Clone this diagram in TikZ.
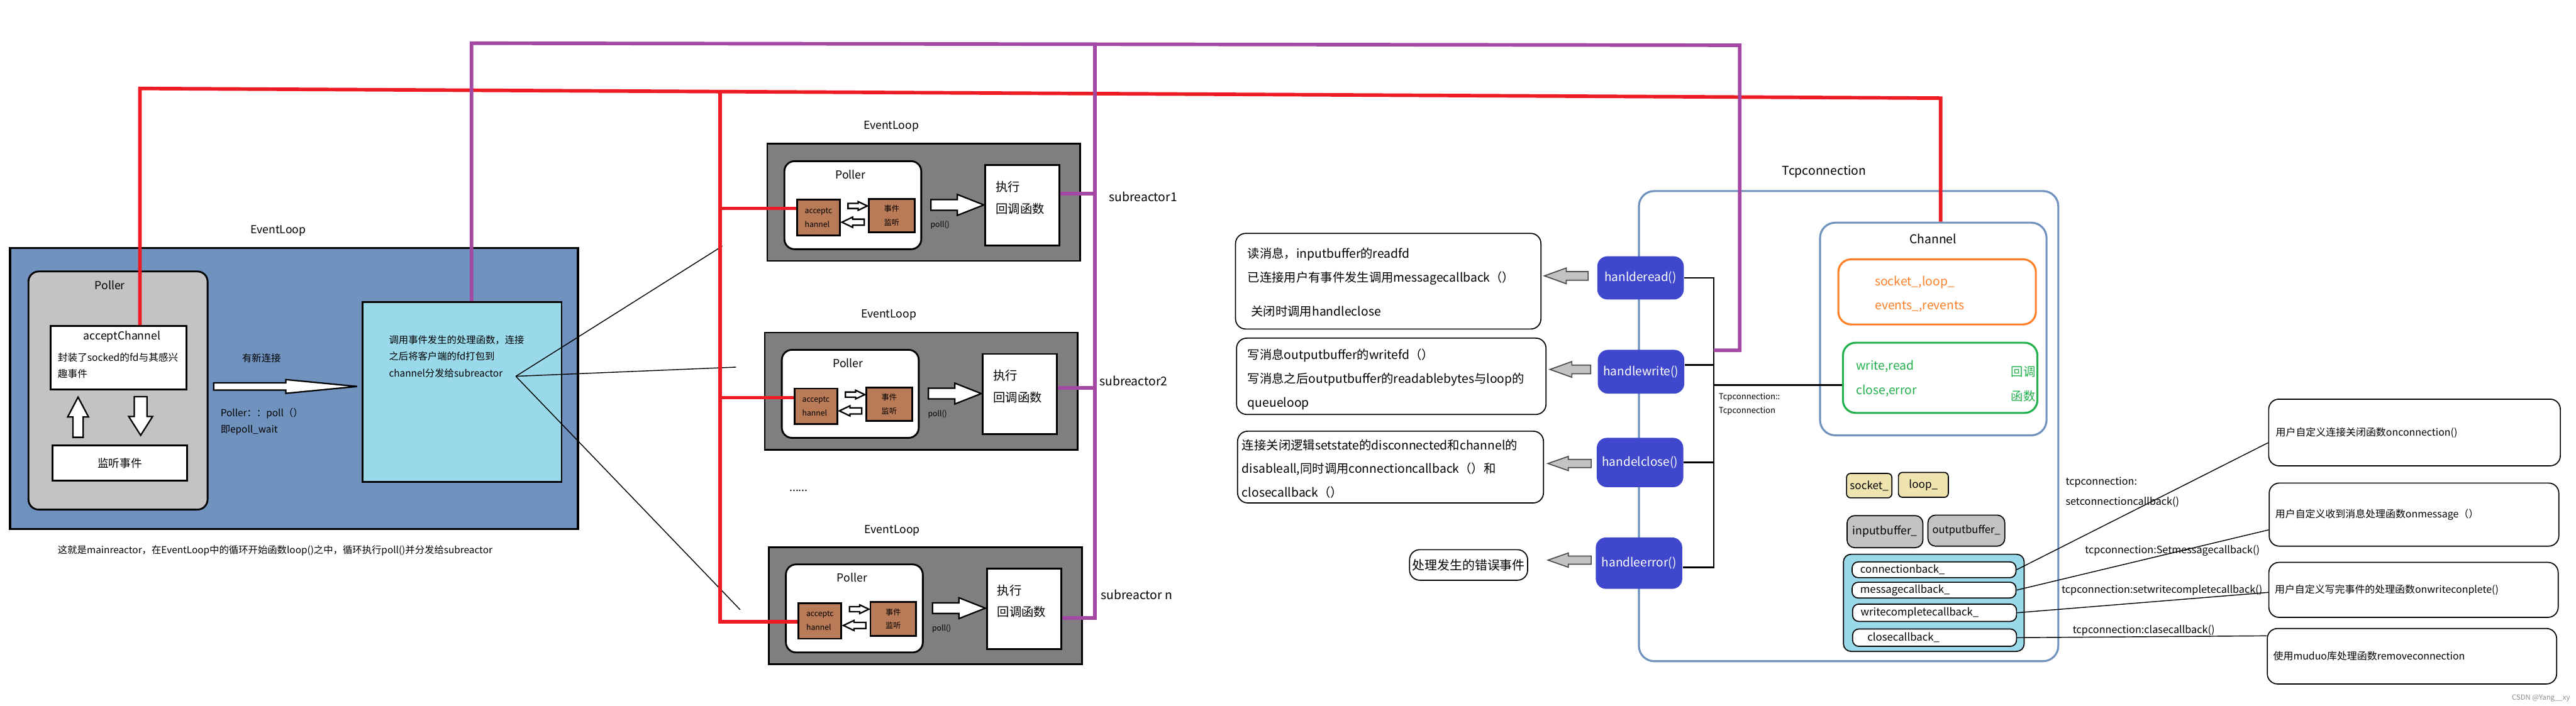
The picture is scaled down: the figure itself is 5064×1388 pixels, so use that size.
\documentclass[tikz,border=0pt]{standalone}
\usepackage{fontspec}
\setmainfont{Noto Sans CJK SC}
\usepackage{xcolor}
\usetikzlibrary{positioning}
\newcommand{\fsz}[2]{\fontsize{#1}{#2}\selectfont}
% block arrow: [style] {cx}{cy}{rotation}{length}{head width}{shaft width}{head length}
\newcommand{\blockarr}[8][]{%
  \begin{scope}[shift={(#2,#3)}, rotate=#4]
    \draw[barrow,#1] (-#5/2,-#7/2) -- (#5/2-#8,-#7/2) -- (#5/2-#8,-#6/2) -- (#5/2,0)
         -- (#5/2-#8,#6/2) -- (#5/2-#8,#7/2) -- (-#5/2,#7/2) -- cycle;
  \end{scope}}
\definecolor{cMain}{HTML}{7092BE}
\definecolor{cLight}{HTML}{99D9EA}
\definecolor{cPoll}{HTML}{C3C3C3}
\definecolor{cLoop}{HTML}{7F7F7F}
\definecolor{cBrown}{HTML}{B97A57}
\definecolor{cRed}{HTML}{ED1C24}
\definecolor{cPurple}{HTML}{A349A4}
\definecolor{cHandle}{HTML}{3F48CC}
\definecolor{cOrange}{HTML}{FF7F27}
\definecolor{cGreen}{HTML}{22B14C}
\definecolor{cTan}{HTML}{EFE4B0}
\tikzset{
  txt/.style={inner sep=0pt, align=left},
  box/.style 2 args={draw=black, line width=1pt, minimum width=#1cm, minimum height=#2cm, inner sep=0pt},
  barrow/.style={draw=black, fill=white, line width=0.8pt, line join=miter},
  garrow/.style={draw=black!70, fill=cPoll, line width=0.6pt},
  loopbox/.style={draw=black, fill=cLoop, line width=1pt, minimum width=6.15cm, minimum height=2.30cm},
  pollbox/.style={draw=black, fill=white, line width=1pt, rounded corners=0.2cm,
                  minimum width=2.69cm, minimum height=1.73cm},
  brownbox/.style={draw=black, fill=cBrown, line width=1pt, align=left, inner sep=0pt, font=\fsz{4.3}{7.7}},
  wbox/.style={draw=black, fill=white, line width=1pt, minimum width=1.46cm, minimum height=1.58cm},
  redline/.style={cRed, line width=2pt},
  purline/.style={cPurple, line width=2pt},
  busline/.style={black, line width=1pt},
  thinl/.style={black, line width=0.5pt},
  hbox/.style={fill=cHandle, rounded corners=0.2cm, minimum width=1.70cm, text=white,
               font=\fsz{6.7}{8}, inner sep=0pt},
  descbox/.style={draw=black, fill=white, line width=0.6pt, rounded corners=0.2cm, inner sep=0pt},
  chanbox/.style={draw=#1, line width=1.1pt, rounded corners=0.3cm, inner sep=0pt},
  tanbox/.style={draw=black, fill=cTan, line width=0.6pt, rounded corners=0.08cm, inner sep=0pt,
                 font=\fsz{6}{7}},
  bufbox/.style={draw=black, fill=cPoll, line width=0.6pt, rounded corners=0.15cm, inner sep=0pt},
  cbbox/.style={draw=black, fill=white, line width=0.6pt, rounded corners=0.12cm, minimum width=3.22cm,
                inner xsep=0.16cm, inner ysep=0pt, text width=2.9cm, align=left, font=\fsz{5.9}{7}},
  userbox/.style={draw=black, fill=white, line width=0.6pt, rounded corners=0.2cm, text width=5.45cm,
                  align=left, font=\fsz{5.6}{7}},
  fa/.style={font=\fsz{4.3}{5.2}},
  fb/.style={font=\fsz{5.4}{6.5}},
  fc/.style={font=\fsz{6.2}{7.4}},
  fd/.style={font=\fsz{6.8}{8.2}},
}

\begin{document}
\begin{tikzpicture}[x=0.01cm, y=-0.01cm]
  \useasboundingbox[fill=white] (0,0) rectangle (5064,1388);

  % main reactor
  \node[fc] (mainTitle) at (547,454) {EventLoop};
  \node[box={11.16}{5.52}, fill=cMain, line width=1.2pt] (mainLoop) at (578,764) {};
  \node[box={3.52}{4.68}, fill=cPoll, rounded corners=0.2cm] (mainPoller) at (232,768) {};
  \node[fc] (mainPollerLbl) at (216,561) {Poller};
  \node[box={2.67}{1.25}, fill=white] (acceptCh) at (233.5,703.5) {};
  \node[fc] (acceptChLbl) at (240,662) {acceptChannel};
  \node[txt, anchor=west, font=\fsz{5.5}{9.1}] (acceptChTxt) at (113,719) {封装了socked的fd与其感兴\\趣事件};
  \blockarr{153.5}{820.5}{90}{79}{41}{20}{39}
  \blockarr{276.5}{818}{-90}{76}{47}{25}{37}
  \node[box={2.65}{0.69}, fill=white, fc] (listenEv) at (235.5,910.5) {监听事件};
  \blockarr{561}{760}{0}{282}{27}{14}{140}
  \node[fb] (newConnLbl) at (514,704) {有新连接};
  \node[txt, anchor=west, font=\fsz{5.4}{9.1}] (pollLbl) at (433,829) {Poller：：poll（）\\即epoll\_wait};
  \node[box={3.91}{3.54}, fill=cLight] (dispatch) at (908.5,771) {};
  \node[txt, anchor=west, font=\fsz{5.4}{9.4}] (dispatchTxt) at (764,701)
       {调用事件发生的处理函数，连接\\之后将客户端的fd打包到\\channel分发给subreactor};
  \node[txt, anchor=west, fb] (mainNote) at (113,1083)
       {这就是mainreactor，在EventLoop中的循环开始函数loop()之中，循环执行poll()并分发给subreactor};
  \coordinate (fanOut) at (1014,740);
  \coordinate (toLoopA) at (1420,484);
  \coordinate (toLoopB) at (1447,722);
  \coordinate (toLoopC) at (1455,1199);
  \draw[thinl] (fanOut) -- (toLoopA);
  \draw[thinl] (fanOut) -- (toLoopB);
  \draw[thinl] (fanOut) -- (toLoopC);

  % sub reactor 1
  \node[fc] (loopALbl) at (1752,249) {EventLoop};
  \node[loopbox] (loopA) at (1816,398) {};
  \node[pollbox] (pollA) at (1676.5,403.5) {};
  \node[fc] (pollALbl) at (1672,343) {Poller};
  \node[brownbox, minimum width=0.84cm, minimum height=0.70cm] (accA) at (1609,428) {acceptc\\hannel};
  \node[brownbox, minimum width=0.90cm, minimum height=0.66cm] (evA) at (1753,424) {事件\\监听};
  \blockarr{1686}{405}{0}{38}{17}{10}{18}
  \blockarr{1677}{437}{180}{44}{20}{12}{21}
  \blockarr{1882}{403}{0}{104}{41}{21}{52}
  \node[fa] (pollCallA) at (1848,443) {poll()};
  \node[wbox] (cbA) at (2010,404) {};
  \node[txt, anchor=west, font=\fsz{6.8}{12}] (cbATxt) at (1957,389) {执行\\回调函数};
  \node[txt, anchor=west, fd] (subALbl) at (2180,387) {subreactor1};

  % sub reactor 2
  \node[fc] (loopBLbl) at (1747,620) {EventLoop};
  \node[loopbox] (loopB) at (1811,769) {};
  \node[pollbox] (pollB) at (1671.5,774.5) {};
  \node[fc] (pollBLbl) at (1667,714) {Poller};
  \node[brownbox, minimum width=0.84cm, minimum height=0.70cm] (accB) at (1604,799) {acceptc\\hannel};
  \node[brownbox, minimum width=0.90cm, minimum height=0.66cm] (evB) at (1748,795) {事件\\监听};
  \blockarr{1681}{776}{0}{38}{17}{10}{18}
  \blockarr{1672}{808}{180}{44}{20}{12}{21}
  \blockarr{1877}{774}{0}{104}{41}{21}{52}
  \node[fa] (pollCallB) at (1843,814) {poll()};
  \node[wbox] (cbB) at (2005,775) {};
  \node[txt, anchor=west, font=\fsz{6.8}{12}] (cbBTxt) at (1952,760) {执行\\回调函数};
  \node[txt, anchor=west, fd] (subBLbl) at (2161,749) {subreactor2};

  \node[fc] (moreLoops) at (1570,965) {......};

  % sub reactor n
  \node[fc] (loopCLbl) at (1754,1043) {EventLoop};
  \node[loopbox] (loopC) at (1819,1191) {};
  \node[pollbox] (pollC) at (1679.5,1196.5) {};
  \node[fc] (pollCLbl) at (1675,1136) {Poller};
  \node[brownbox, minimum width=0.84cm, minimum height=0.70cm] (accC) at (1612,1221) {acceptc\\hannel};
  \node[brownbox, minimum width=0.90cm, minimum height=0.66cm] (evC) at (1756,1217) {事件\\监听};
  \blockarr{1689}{1198}{0}{38}{17}{10}{18}
  \blockarr{1680}{1230}{180}{44}{20}{12}{21}
  \blockarr{1885}{1196}{0}{104}{41}{21}{52}
  \node[fa] (pollCallC) at (1851,1236) {poll()};
  \node[wbox] (cbC) at (2013,1197) {};
  \node[txt, anchor=west, font=\fsz{6.8}{12}] (cbCTxt) at (1960,1182) {执行\\回调函数};
  \node[txt, anchor=west, fd] (subCLbl) at (2164,1170) {subreactor n};

  % Tcpconnection
  \node[fd] (tcpLbl) at (3586,338) {Tcpconnection};
  \node[chanbox=cMain, minimum width=8.24cm, minimum height=9.24cm] (tcp) at (3634,838) {};
  \node[chanbox=cMain, minimum width=4.45cm, minimum height=4.18cm] (channel) at (3800.5,647) {};
  \node[fd] (channelLbl) at (3800,470) {Channel};
  \node[chanbox=cOrange, rounded corners=0.25cm, minimum width=3.88cm, minimum height=1.28cm] (chState) at (3808,574) {};
  \node[txt, anchor=west, text=cOrange, font=\fsz{6.8}{13.1}] (chStateTxt) at (3685,578) {socket\_,loop\_\\events\_,revents};
  \node[chanbox=cGreen, rounded corners=0.25cm, minimum width=3.82cm, minimum height=1.38cm] (chCb) at (3814,743) {};
  \node[txt, anchor=west, text=cGreen, font=\fsz{6.8}{13.7}] (chCbTxt) at (3648,744) {write,read\\close,error};
  \node[txt, anchor=west, text=cGreen, font=\fsz{6.8}{13.7}] (chCbTag) at (3953,755) {回调\\函数};

  \node[tanbox, minimum width=0.89cm, minimum height=0.48cm] (sockBuf) at (3674.5,955) {socket\_};
  \node[tanbox, minimum width=0.98cm, minimum height=0.49cm] (loopBuf) at (3781,953.5) {loop\_};
  \node[bufbox, minimum width=1.49cm, minimum height=0.63cm, font=\fsz{6.2}{7}] (inBuf) at (3705.5,1045.5) {inputbuffer\_};
  \node[bufbox, minimum width=1.51cm, minimum height=0.61cm, font=\fsz{5.8}{7}] (outBuf) at (3865.5,1043.5) {outputbuffer\_};
  \node[bufbox, fill=cLight, minimum width=3.55cm, minimum height=1.91cm] (cbSet) at (3801.5,1185.5) {};
  \node[cbbox, minimum height=0.31cm] (cbConn) at (3802,1120.5) {connectionback\_};
  \node[cbbox, minimum height=0.31cm] (cbMsg) at (3802,1160.5) {messagecallback\_};
  \node[cbbox, minimum height=0.34cm] (cbWrite) at (3803,1205) {writecompletecallback\_};
  \node[cbbox, minimum height=0.34cm] (cbClose) at (3803,1254) {\hspace{1.3mm}closecallback\_};

  \node[hbox, minimum height=0.85cm] (hRead) at (3225,546.5) {hanlderead()};
  \node[hbox, minimum height=0.86cm] (hWrite) at (3226,731) {handlewrite()};
  \node[hbox, minimum height=0.97cm] (hClose) at (3224,909.5) {handelclose()};
  \node[hbox, minimum height=1.01cm] (hErr) at (3222,1107.5) {handleerror()};

  \blockarr[garrow]{3079}{542.5}{180}{86}{31}{17}{43}
  \blockarr[garrow]{3087}{726.5}{180}{80}{31}{17}{43}
  \blockarr[garrow]{3085.5}{911.5}{180}{85}{28}{16}{40}
  \blockarr[garrow]{3085.5}{1101.5}{180}{85}{28}{16}{40}

  \node[descbox, minimum width=6.00cm, minimum height=1.88cm] (dRead) at (2729,553) {};
  \node[txt, anchor=west, font=\fsz{6.8}{13.5}] (dReadTxt) at (2452,555)
       {读消息，inputbuffer的readfd\\已连接用户有事件发生调用messagecallback（）\\[5.5pt]\hspace{2pt}关闭时调用handleclose};
  \node[descbox, minimum width=6.08cm, minimum height=1.50cm] (dWrite) at (2735,740) {};
  \node[txt, anchor=west, font=\fsz{6.8}{13.4}] (dWriteTxt) at (2452,746)
       {写消息outputbuffer的writefd（）\\写消息之后outputbuffer的readablebytes与loop的\\queueloop};
  \node[descbox, minimum width=6.01cm, minimum height=1.41cm] (dClose) at (2733.5,918.5) {};
  \node[txt, anchor=west, font=\fsz{6.8}{13.2}] (dCloseTxt) at (2441,921.5)
       {连接关闭逻辑setstate的disconnected和channel的\\disableall,同时调用connectioncallback（）和\\closecallback（）};
  \node[descbox, minimum width=2.32cm, minimum height=0.60cm, font=\fsz{7}{8}] (dErr) at (2887,1111) {处理发生的错误事件};

  \coordinate (busW) at (3369,718);
  \coordinate (busMid) at (3369,757);
  \coordinate (busBot) at (3369,1116);
  \draw[busline] (hRead.east) -| (busBot) -- (hErr.east |- busBot);
  \draw[busline] (hWrite.east |- busW) -- (busW);
  \draw[busline] (hClose.east) -- (hClose.east -| busBot);
  \draw[busline] (busMid) -- (chCb.west |- busMid);
  \node[txt, anchor=north west, font=\fsz{4.6}{7.7}] (busLbl) at (3378,772) {Tcpconnection::\\Tcpconnection};

  % user callbacks
  \node[userbox, minimum width=5.73cm, minimum height=1.31cm] (uConn) at (4746.5,850.5) {用户自定义连接关闭函数onconnection()};
  \node[userbox, minimum width=5.69cm, minimum height=1.24cm] (uMsg) at (4745.5,1012) {用户自定义收到消息处理函数onmessage（）};
  \node[userbox, minimum width=5.63cm, minimum height=1.08cm] (uWrite) at (4744.5,1160) {用户自定义写完事件的处理函数onwriteconplete()};
  \node[userbox, minimum width=5.63cm, minimum height=1.09cm] (uClose) at (4741.5,1290.5) {使用muduo库处理函数removeconnection};
  \node[txt, anchor=west, font=\fsz{5.7}{11.1}] (setConnLbl) at (4060,967.5) {tcpconnection:\\setconnectioncallback()};
  \node[txt, anchor=west, font=\fsz{5.7}{6.8}] (setMsgLbl) at (4098,1083) {tcpconnection:Setmessagecallback()};
  \node[txt, anchor=west, font=\fsz{5.7}{6.8}] (setWriteLbl) at (4052,1160) {tcpconnection:setwritecompletecallback()};
  \node[txt, anchor=west, font=\fsz{5.7}{6.8}] (setCloseLbl) at (4074,1240) {tcpconnection:clasecallback()};
  \draw[thinl] (cbConn.east) -- (uConn.184);
  \draw[thinl] (cbMsg.east) -- (uMsg.186);
  \draw[thinl] (cbWrite.east) -- (uWrite.181);
  \draw[thinl] (cbClose.east) -- (uClose.172);

  % acceptChannel wiring
  \coordinate (redNW) at (275,174);
  \coordinate (redNE) at (3815,193);
  \coordinate (redJ) at (1416,180);
  \coordinate (redA) at (1416,410);
  \coordinate (redB) at (1416,782);
  \coordinate (redS) at (1416,1223);
  \draw[redline] (acceptCh.north -| redNW) -- (redNW) -- (redNE) -- (channel.north -| redNE);
  \draw[redline] (redJ) -- (redS) -- (accC.west |- redS);
  \draw[redline] (redA) -- (accA.west |- redA);
  \draw[redline] (redB) -- (accB.west |- redB);

  % subreactor wiring
  \coordinate (purNW) at (927,85);
  \coordinate (purNE) at (3420,89);
  \coordinate (purJ) at (2152,87);
  \coordinate (purA) at (2152,381);
  \coordinate (purB) at (2152,763);
  \coordinate (purS) at (2152,1215);
  \coordinate (busP) at (3369,689);
  \draw[purline] (dispatch.north -| purNW) -- (purNW) -- (purNE) -- (purNE |- busP) -- (busP);
  \draw[purline] (purJ) -- (purS) -- (cbC.east |- purS);
  \draw[purline] (purA) -- (cbA.east |- purA);
  \draw[purline] (purB) -- (cbB.east |- purB);

  \node[font=\fsz{4}{5}, text=black!45] (mark) at (4995,1373) {CSDN @Yang\_\_xy};
\end{tikzpicture}
\end{document}
